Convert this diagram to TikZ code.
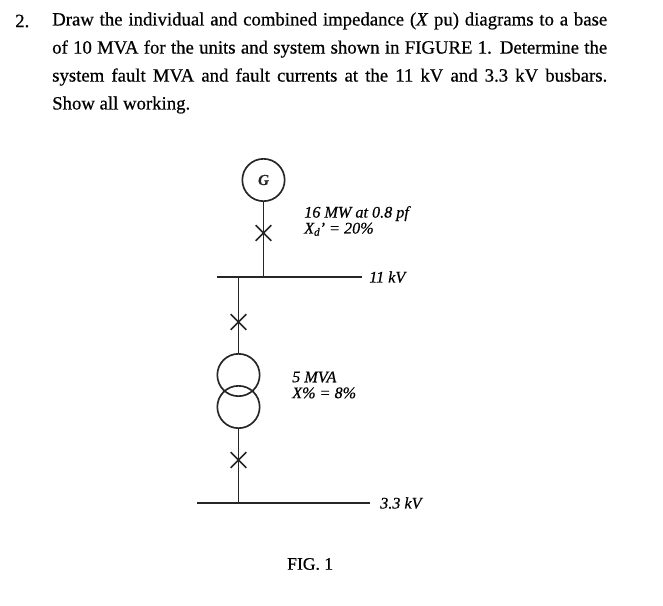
\documentclass[tikz,border=0pt]{standalone}
\usepackage{fontspec}
\setmainfont{Liberation Serif}[RawFeature={embolden=0.5}]
\usetikzlibrary{shapes.misc}
\tikzset{
line/.style={line width=0.052cm,black!85},
ring/.style={circle,draw,line width=0.05cm,black!85,minimum size=1.27cm,inner sep=0pt},
breaker/.style={cross out,draw,line width=0.05cm,black!85,minimum size=0.42cm,inner sep=0pt},
para/.style={anchor=west,inner sep=0pt,font=\fontsize{16}{18}\selectfont},
rating/.style={anchor=west,inner sep=0pt,align=left,font=\fontsize{13.8}{13.6}\selectfont\itshape}
}
\begin{document}
\begin{tikzpicture}[x=0.03cm,y=-0.03cm]
\useasboundingbox (0,0) rectangle (663,605);

\node[para] (num) at (15,21) {2.};
\node[para] (lineA) at (52,21) {\makebox[16.65cm][s]{Draw the individual and combined impedance (\textit{X} pu) diagrams to a base}};
\node[para] (lineB) at (52,49) {\makebox[16.65cm][s]{of 10 MVA for the units and system shown in FIGURE 1. Determine the}};
\node[para] (lineC) at (52,77) {\makebox[16.65cm][s]{system fault MVA and fault currents at the 11 kV and 3.3 kV busbars.}};
\node[para] (lineD) at (52,105) {Show all working.};

\node[ring,font=\fontsize{13}{13}\selectfont\itshape\bfseries] (gen) at (263.5,180) {G};
\node[breaker] (cbG) at (263.5,233) {};
\coordinate (busAl) at (217,277);
\coordinate (busAr) at (362,277);
\coordinate (tapG) at (263.5,277);
\coordinate (tapT) at (238.5,277);
\node[breaker] (cbA) at (238.5,322) {};
\node[ring] (trA) at (238.5,375) {};
\node[ring] (trB) at (238.5,407) {};
\node[breaker] (cbB) at (238.5,460) {};
\coordinate (busBl) at (197,503);
\coordinate (busBr) at (370,503);
\coordinate (tapB) at (238.5,503);

\draw[line] (gen)--(tapG);
\draw[line] (busAl)--(busAr);
\draw[line] (tapT)--(trA);
\draw[line] (trB)--(tapB);
\draw[line] (busBl)--(busBr);

\node[rating] (genrate) at (304,221) {16 MW at 0.8 pf\\X\raisebox{-0.3ex}{\fontsize{9.5}{10}\selectfont d}' = 20\%};
\node[rating] (kvA) at (369,277) {11 kV};
\node[rating] (trrate) at (292,385) {5 MVA\\X\% = 8\%};
\node[rating] (kvB) at (380,503) {3.3 kV};
\node[anchor=west,inner sep=0pt,font=\fontsize{15}{18}\selectfont] (fig) at (287,564) {FIG. 1};

\end{tikzpicture}
\end{document}
